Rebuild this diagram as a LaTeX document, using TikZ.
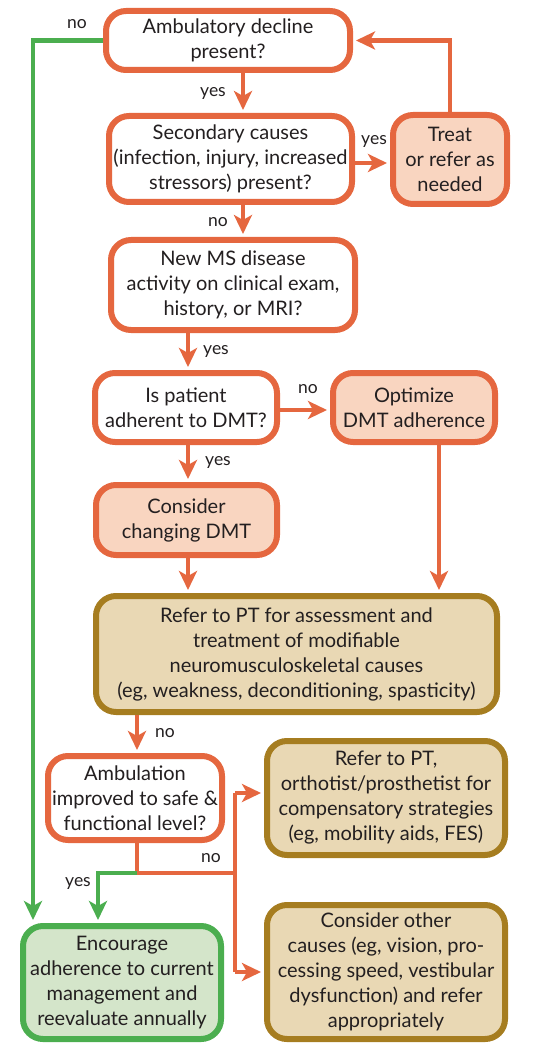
\documentclass[tikz,border=0pt]{standalone}
\usepackage{fontspec}
\setmainfont{Lato}
\usetikzlibrary{arrows.meta}
\definecolor{org}{HTML}{E5673F}
\definecolor{peach}{HTML}{F9D5C0}
\definecolor{tan}{HTML}{E9D8B4}
\definecolor{gold}{HTML}{A67D20}
\definecolor{grn}{HTML}{4BAE4F}
\definecolor{lgrn}{HTML}{D4E5CA}
\definecolor{ink}{HTML}{231F20}
\begin{document}
\begin{tikzpicture}[x=1pt,y=-1pt,
  box/.style={rounded corners=20pt, line width=6pt, align=center, inner sep=0pt,
    font=\fontsize{20}{25}\selectfont, text=ink},
  qbox/.style={box, draw=org, fill=white},
  pbox/.style={box, draw=org, fill=peach},
  tbox/.style={box, draw=gold, fill=tan},
  gbox/.style={box, draw=grn, fill=lgrn},
  oline/.style={draw=org, line width=4.5pt},
  arr/.style={oline, -{Stealth[length=19pt,width=18pt,inset=5pt]}, shorten >=3pt},
  gline/.style={draw=grn, line width=4.5pt},
  garr/.style={gline, -{Stealth[length=19pt,width=18pt,inset=5pt]}, shorten >=3pt},
  lab/.style={font=\fontsize{17.5}{18}\selectfont, text=ink, inner sep=0pt}
]
\useasboundingbox (0,0) rectangle (554,1056);

% boxes
\node[qbox, minimum width=244pt, minimum height=59pt] (b1) at (228,40.5) {Ambulatory decline\\present?};
\node[qbox, minimum width=243pt, minimum height=86pt] (b2) at (230.5,159) {Secondary causes\\(infection, injury, increased\\stressors) present?};
\node[pbox, minimum width=114pt, minimum height=89pt] (treat) at (450,159.5) {Treat\\or refer as\\needed};
\node[qbox, minimum width=244pt, minimum height=90pt] (b3) at (233,285) {New MS disease\\activity on clinical exam,\\history, or MRI?};
\node[qbox, minimum width=182pt, minimum height=69pt] (b4) at (186,407.5) {Is patient\\adherent to DMT?};
\node[pbox, minimum width=162pt, minimum height=69pt] (opt) at (414,407.5) {Optimize\\DMT adherence};
\node[pbox, minimum width=181pt, minimum height=70pt] (cons) at (186.5,520) {Consider\\changing DMT};
\node[tbox, minimum width=401pt, minimum height=116pt] (pt) at (296.5,654) {Refer to PT for assessment and\\treatment of modifiable\\neuromusculoskeletal causes\\(eg, weakness, deconditioning, spasticity)};
\node[qbox, minimum width=174pt, minimum height=84pt] (amb) at (135,798) {Ambulation\\improved to safe \&\\functional level?};
\node[tbox, minimum width=238pt, minimum height=114pt] (orth) at (386,798) {Refer to PT,\\orthotist/prosthetist for\\compensatory strategies\\(eg, mobility aids, FES)};
\node[gbox, minimum width=198pt, minimum height=113pt] (enc) at (122,982.5) {Encourage\\adherence to current\\management and\\reevaluate annually};
\node[tbox, minimum width=238pt, minimum height=134pt] (oth) at (386,972) {Consider other\\causes (eg, vision, pro-\\cessing speed, vestibular\\dysfunction) and refer\\appropriately};

% helper coordinates
\coordinate (xa) at (243,0);
\coordinate (xb) at (188,0);
\coordinate (xc) at (439,0);
\coordinate (xd) at (137,0);
\coordinate (ya) at (0,163);
\coordinate (yb) at (0,410);
\coordinate (J) at (137,873);
\coordinate (K) at (235,873);
\coordinate (ko) at (235,793);
\coordinate (kt) at (235,972);
\coordinate (G) at (98,873);
\coordinate (gl) at (33,0);

% orange connectors
\draw[arr] (b1.south -| xa) -- (b2.north -| xa);
\draw[arr] (b2.east |- ya) -- (treat.west |- ya);
\draw[arr] (treat.north) |- (b1.east);
\draw[arr] (b2.south -| xa) -- (b3.north -| xa);
\draw[arr] (b3.south -| xb) -- (b4.north -| xb);
\draw[arr] (b4.east |- yb) -- (opt.west |- yb);
\draw[arr] (b4.south -| xb) -- (cons.north -| xb);
\draw[arr] (cons.south -| xb) -- (pt.north -| xb);
\draw[arr] (opt.south -| xc) -- (pt.north -| xc);
\draw[arr] (pt.south -| xd) -- (amb.north -| xd);
\draw[oline] (amb.south -| xd) -- (J) -- (K);
\draw[oline] (ko) -- (kt);
\draw[arr] (ko) -- (orth.west |- ko);
\draw[arr] (kt) -- (oth.west |- kt);

% green connectors
\draw[garr] (b1.west) -| (enc.north -| gl);
\draw[garr] (J) -- (G) -- (enc.north -| G);

% labels
\node[lab] (l1) at (77,24) {no};
\node[lab] (l2) at (213,94) {yes};
\node[lab] (l3) at (374,142) {yes};
\node[lab] (l4) at (218,222) {no};
\node[lab] (l5) at (216,351) {yes};
\node[lab] (l6) at (308,389) {no};
\node[lab] (l7) at (218,462) {yes};
\node[lab] (l8) at (165,733) {no};
\node[lab] (l9) at (211,858) {no};
\node[lab] (l10) at (78,883) {yes};
\end{tikzpicture}
\end{document}
